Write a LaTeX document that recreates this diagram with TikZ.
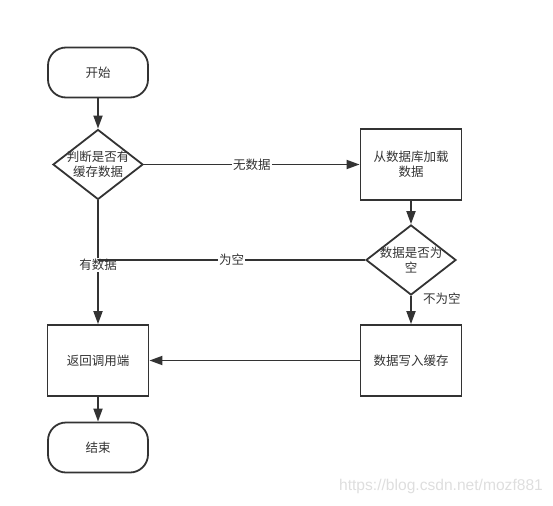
\documentclass[tikz,border=0pt]{standalone}
\usepackage{fontspec}
\setmainfont{Noto Sans CJK SC}
\newfontfamily\wmfont{Liberation Sans}
\usetikzlibrary{shapes.geometric,arrows.meta}
\definecolor{ink}{HTML}{333333}
\tikzset{
  terminal/.style={draw=ink,rounded corners=18pt,minimum width=100pt,minimum height=50pt},
  process/.style={draw=ink,align=center,minimum width=101pt,minimum height=71pt},
  decision/.style={draw=ink,diamond,minimum width=90pt,minimum height=70pt,inner sep=0pt},
  flow/.style={draw=ink,-{Triangle[length=13pt,width=9pt]}},
  edgelabel/.style={fill=white,inner sep=1pt},
}
\begin{document}
\begin{tikzpicture}[x=1pt,y=-1pt,line width=1.8pt,font=\fontsize{12.5}{15}\selectfont,text=ink]
\useasboundingbox (0,0) rectangle (553,505);
\node[terminal] (start) at (98,72.5) {开始};
\node[decision,label={[align=center]center:判断是否有\\缓存数据}] (cache) at (98,164.5) {};
\node[process] (load) at (411,164.5) {从数据库加载\\数据};
\node[decision,label={[align=center]center:数据是否为\\空}] (empty) at (411,260) {};
\node[process] (ret) at (98,360.5) {返回调用端};
\node[process] (write) at (411,360.5) {数据写入缓存};
\node[terminal] (finish) at (98,447.5) {结束};
\coordinate (join) at (cache |- empty);
\draw[flow] (start) -- (cache);
\draw[flow] (cache) -- node[edgelabel]{无数据} (load);
\draw[flow] (load) -- (empty);
\draw[flow] (cache) -- node[edgelabel,pos=0.52]{有数据} (ret);
\draw[draw=ink] (empty) -- node[edgelabel]{为空} (join);
\draw[flow] (empty) -- node[pos=0.1,anchor=west,xshift=8pt]{不为空} (write);
\draw[flow] (write) -- (ret);
\draw[flow] (ret) -- (finish);
\node[text=black!13,font=\wmfont\fontsize{15.6}{18}\selectfont] (mark) at (441,486) {https://blog.csdn.net/mozf881};
\end{tikzpicture}
\end{document}
